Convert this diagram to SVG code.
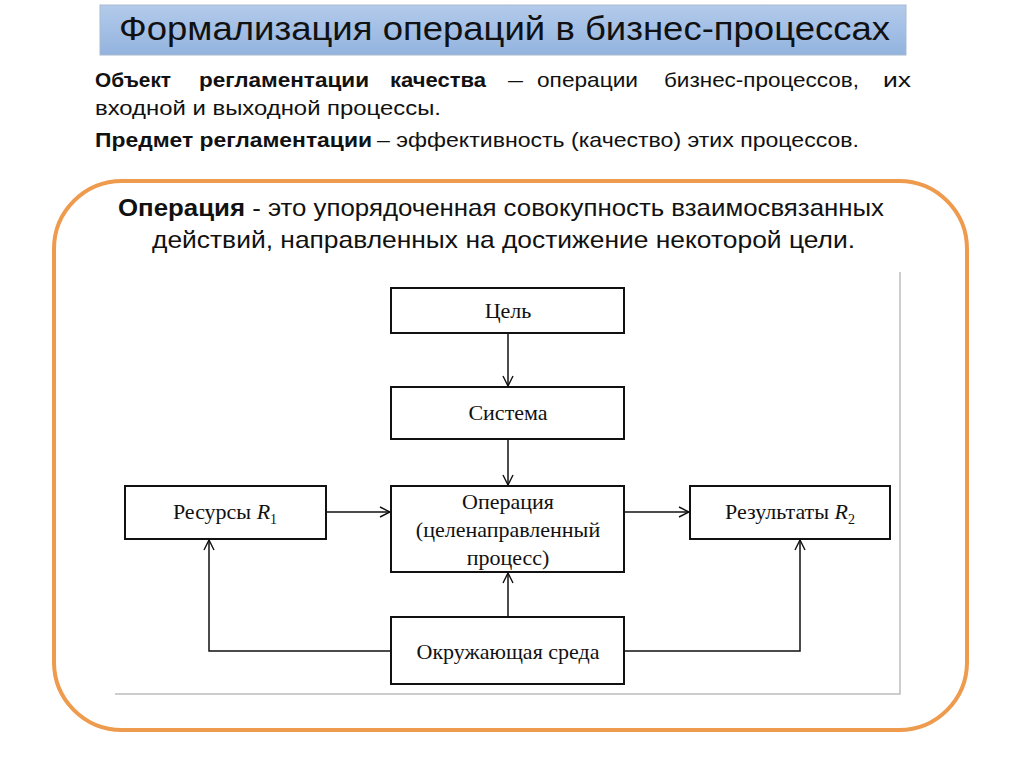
<svg xmlns="http://www.w3.org/2000/svg" width="1024" height="767" viewBox="0 0 1024 767">
<defs>
<linearGradient id="tg" x1="0" y1="0" x2="0" y2="1">
<stop offset="0" stop-color="#b3cbeb"/>
<stop offset="1" stop-color="#93b3de"/>
</linearGradient>
<marker id="ah" viewBox="0 0 12 12" refX="11" refY="6" markerWidth="12" markerHeight="12" markerUnits="userSpaceOnUse" orient="auto">
<polyline points="1,1 11,6 1,11" fill="none" stroke="#111" stroke-width="1.4"/>
</marker>
<style>
.sans{font-family:"Liberation Sans","Open Sans",sans-serif;fill:#111}
.b{font-weight:bold}
.box{fill:#fff;stroke:#111;stroke-width:2}
.lbl{font-family:"Liberation Serif","Times New Roman",serif;font-size:22px;fill:#111;text-anchor:middle}
.con{fill:none;stroke:#111;stroke-width:1.5}
</style>
</defs>
<rect width="1024" height="767" fill="#fff"/>
<g id="title">
<rect x="100" y="5" width="806" height="50" fill="url(#tg)" stroke="#a9b9cf" stroke-width="1"/>
<text class="sans" x="119" y="40" font-size="34" textLength="771" lengthAdjust="spacingAndGlyphs">Формализация операций в бизнес-процессах</text>
</g>
<g id="intro" class="sans" font-size="21">
<text x="95" y="87" class="b" textLength="76" lengthAdjust="spacingAndGlyphs">Объект</text>
<text x="199" y="87" class="b" textLength="170" lengthAdjust="spacingAndGlyphs">регламентации</text>
<text x="390" y="87" class="b" textLength="96" lengthAdjust="spacingAndGlyphs">качества</text>
<text x="508" y="87" textLength="15" lengthAdjust="spacingAndGlyphs">–</text>
<text x="537" y="87" textLength="101" lengthAdjust="spacingAndGlyphs">операции</text>
<text x="664" y="87" textLength="195" lengthAdjust="spacingAndGlyphs">бизнес-процессов,</text>
<text x="883" y="87" textLength="28" lengthAdjust="spacingAndGlyphs">их</text>
<text x="95" y="115" textLength="346" lengthAdjust="spacingAndGlyphs">входной и выходной процессы.</text>
<text x="95" y="147" class="b" textLength="277" lengthAdjust="spacingAndGlyphs">Предмет регламентации</text>
<text x="377" y="147" textLength="482" lengthAdjust="spacingAndGlyphs">– эффективность (качество) этих процессов.</text>
</g>
<g id="frame">
<rect x="54" y="181" width="913" height="549" rx="68" ry="68" fill="#fff" stroke="#ee9b4e" stroke-width="4"/>
<text class="sans" x="118" y="216" font-size="24" textLength="766" lengthAdjust="spacingAndGlyphs"><tspan class="b">Операция</tspan> - это упорядоченная совокупность взаимосвязанных</text>
<text class="sans" x="152" y="248" font-size="24" textLength="703" lengthAdjust="spacingAndGlyphs">действий, направленных на достижение некоторой цели.</text>
<polyline points="900,272 900,694 115,694" fill="none" stroke="#bdbdbd" stroke-width="1.5"/>
</g>
<g id="connectors">
<line class="con" x1="508" y1="334" x2="508" y2="386" marker-end="url(#ah)"/>
<line class="con" x1="508" y1="440" x2="508" y2="485" marker-end="url(#ah)"/>
<line class="con" x1="326" y1="512" x2="390" y2="512" marker-end="url(#ah)"/>
<line class="con" x1="624" y1="512" x2="689" y2="512" marker-end="url(#ah)"/>
<line class="con" x1="508" y1="617" x2="508" y2="573" marker-end="url(#ah)"/>
<polyline class="con" points="391,651 209,651 209,540" marker-end="url(#ah)"/>
<polyline class="con" points="624,651 800,651 800,540" marker-end="url(#ah)"/>
</g>
<g id="goal">
<rect class="box" x="391" y="288" width="233" height="45"/>
<text class="lbl" x="508" y="318">Цель</text>
</g>
<g id="system">
<rect class="box" x="391" y="387" width="233" height="52"/>
<text class="lbl" x="508" y="420">Система</text>
</g>
<g id="operation">
<rect class="box" x="391" y="486" width="233" height="86"/>
<text class="lbl" x="508" y="509">Операция</text>
<text class="lbl" x="508" y="537">(целенаправленный</text>
<text class="lbl" x="508" y="565">процесс)</text>
</g>
<g id="resources">
<rect class="box" x="125" y="486" width="201" height="53"/>
<text class="lbl" x="225" y="519">Ресурсы <tspan font-style="italic">R</tspan><tspan font-size="14" dy="5">1</tspan></text>
</g>
<g id="results">
<rect class="box" x="690" y="486" width="200" height="53"/>
<text class="lbl" x="790" y="519">Результаты <tspan font-style="italic">R</tspan><tspan font-size="14" dy="5">2</tspan></text>
</g>
<g id="environment">
<rect class="box" x="391" y="617" width="233" height="67"/>
<text class="lbl" x="508" y="659">Окружающая среда</text>
</g>
</svg>
